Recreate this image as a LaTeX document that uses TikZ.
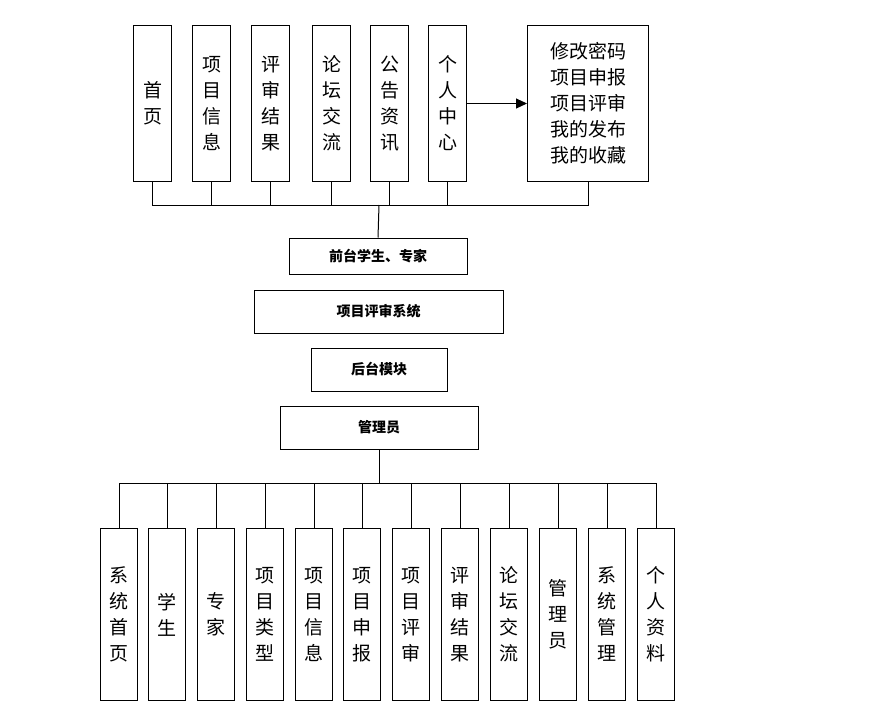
\documentclass[tikz,border=0pt]{standalone}
\usepackage{fontspec}
\newfontfamily\cjk{Noto Sans CJK SC}
\usetikzlibrary{arrows.meta}
\begin{document}
\begin{tikzpicture}[x=1pt,y=-1pt,
 bx/.style={draw,line width=1pt,anchor=north west,inner sep=0pt,font=\cjk\fontsize{19}{26}\selectfont,align=center},
 mid/.style={draw,line width=1pt,inner sep=0pt,font=\cjk\bfseries\fontsize{14}{16}\selectfont},
 ln/.style={line width=1pt}]
\useasboundingbox (0,0) rectangle (883,702);
\foreach \n/\x/\t in {a/133/首\\页, b/192/项\\目\\信\\息, c/251/评\\审\\结\\果, d/312/论\\坛\\交\\流, e/370/公\\告\\资\\讯, f/428/个\\人\\中\\心}
 \node[bx,minimum width=38pt,minimum height=156pt] (\n) at (\x,25) {\t};
\node[bx,minimum width=121pt,minimum height=156pt] (g) at (527,25) {修改密码\\项目申报\\项目评审\\我的发布\\我的收藏};
\draw[ln,-{Triangle[length=11pt,width=10pt]}] (f.east) -- (g.west);
\coordinate (j1) at (379,205);
\draw[ln] (a.south) |- (j1) (g.south) |- (j1);
\foreach \n in {b,c,d,e,f} \draw[ln] (\n.south) -- (\n.south |- j1);
\node[mid,minimum width=178pt,minimum height=36pt] (p) at (378,256) {前台学生、专家};
\node[mid,minimum width=249pt,minimum height=43pt] (q) at (378.5,311.5) {项目评审系统};
\node[mid,minimum width=136pt,minimum height=43pt] (r) at (379,369.5) {后台模块};
\node[mid,minimum width=198pt,minimum height=43pt] (s) at (379,427.5) {管理员};
\draw[ln] (j1) -- (p.north);
\coordinate (j2) at (379,483);
\draw[ln] (s.south) -- (j2);
\foreach \n/\x/\t in {k1/100/系\\统\\首\\页, k2/148/学\\生, k3/197/专\\家, k4/246/项\\目\\类\\型, k5/295/项\\目\\信\\息, k6/343/项\\目\\申\\报, k7/392/项\\目\\评\\审, k8/441/评\\审\\结\\果, k9/490/论\\坛\\交\\流, k10/539/管\\理\\员, k11/588/系\\统\\管\\理, k12/637/个\\人\\资\\料}
 {\node[bx,minimum width=37pt,minimum height=172pt] (\n) at (\x,528) {\t};
  \draw[ln] (\n.north) -- (\n.north |- j2);}
\draw[ln] (k1.north |- j2) -- (k12.north |- j2);
\end{tikzpicture}
\end{document}
